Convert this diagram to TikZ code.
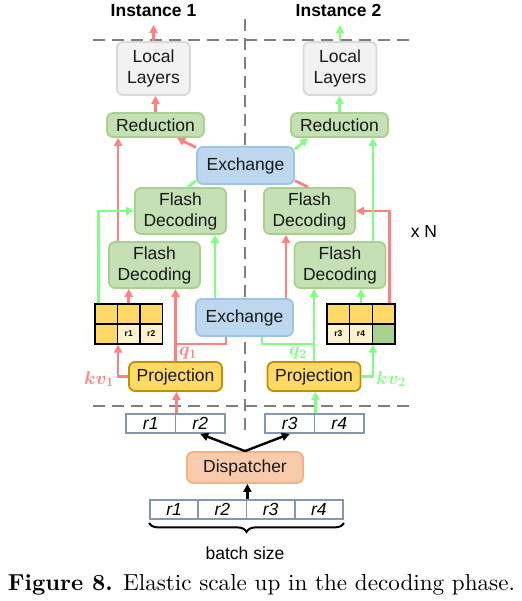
\RequirePackage{fix-cm}
\documentclass[tikz,border=0pt]{standalone}
\usepackage{amsmath,bm}
\usepackage{fontspec}
\setsansfont{Liberation Sans}
\usetikzlibrary{arrows.meta,calc,decorations.pathreplacing}
\definecolor{llF}{HTML}{F2F2F2}\definecolor{llD}{HTML}{D9D9D9}
\definecolor{gF}{HTML}{C5E0B4}\definecolor{gD}{HTML}{A9D18E}
\definecolor{xF}{HTML}{BDD7EE}\definecolor{xD}{HTML}{9DC3E6}
\definecolor{pF}{HTML}{FFD966}\definecolor{pD}{HTML}{BF9000}
\definecolor{dF}{HTML}{F8CBAD}\definecolor{dD}{HTML}{F4B183}
\definecolor{rD}{HTML}{8497B0}
\definecolor{tY}{HTML}{FFD966}\definecolor{tL}{HTML}{FFF2CC}\definecolor{tG}{HTML}{A9D18E}
\definecolor{redl}{HTML}{FF8080}\definecolor{grnl}{HTML}{80FF80}
\definecolor{dashc}{HTML}{7F7F7F}
\newcommand\bxf{\sffamily\fontsize{17.5}{21}\selectfont}
\begin{document}
\begin{tikzpicture}[x=1pt,y=-1pt,
  box/.style={rounded corners=6pt, line width=1.8pt, inner sep=0pt, align=center, font=\bxf, text=black!90},
  llbox/.style={box, draw=llD, fill=llF, minimum width=73pt, minimum height=53pt},
  gbox/.style={box, draw=gD, fill=gF},
  redbox/.style={gbox, minimum width=97pt, minimum height=24pt},
  fdbox/.style={gbox, minimum width=91pt, minimum height=46pt},
  xbox/.style={box, draw=xD, fill=xF, minimum width=97pt, minimum height=37pt},
  pbox/.style={box, draw=pD, fill=pF, minimum width=93pt, minimum height=29pt},
  dbox/.style={box, draw=dD, fill=dF, minimum width=116pt, minimum height=31pt},
  rcell/.style={draw=rD, line width=1.8pt, fill=white, minimum height=19pt, inner sep=0pt, font=\bxf\itshape},
  tcell/.style={draw=black, line width=1.2pt, minimum height=20pt, inner sep=0pt, font=\sffamily\bfseries\fontsize{8.5}{9}\selectfont},
  tip/.style={-{Triangle[length=8pt,width=8pt]}},
  rl/.style={draw=redl, line width=2.7pt},
  gl/.style={draw=grnl, line width=2.7pt},
  ra/.style={rl, tip},
  ga/.style={gl, tip},
  ka/.style={draw=black, line width=2.4pt, tip},
  dline/.style={draw=dashc, line width=2.8pt, dash pattern=on 12pt off 7pt},
  lbl/.style={font=\bxf},
  mlbl/.style={font=\fontsize{18.5}{20}\selectfont\boldmath, inner sep=0pt}
]
\path[use as bounding box] (0,0) rectangle (521,601);

% dashed separators
\draw[dline] (93,40) -- (416,40);
\draw[dline] (93,406) -- (416,406);
\draw[dline] (245,19) -- (245,434);

% titles
\node[lbl, font=\bxf\bfseries, anchor=base] (i1) at (153.5,17) {Instance 1};
\node[lbl, font=\bxf\bfseries, anchor=base] (i2) at (338.5,17) {Instance 2};
\node[lbl, anchor=base] (xn) at (424,237) {x N};

% boxes
\node[llbox] (llL) at (153.5,68.5) {Local\\Layers};
\node[llbox] (llR) at (340,68.5) {Local\\Layers};
\node[redbox] (redL) at (155.5,125) {Reduction};
\node[redbox] (redR) at (339.5,125) {Reduction};
\node[xbox] (exT) at (245.5,165.5) {Exchange};
\node[fdbox] (fdUL) at (180.5,211) {Flash\\Decoding};
\node[fdbox] (fdLL) at (154.5,265) {Flash\\Decoding};
\node[fdbox] (fdUR) at (309.5,211) {Flash\\Decoding};
\node[fdbox] (fdLR) at (340,265) {Flash\\Decoding};
\node[xbox] (exB) at (244.5,317.5) {Exchange};
\node[pbox] (prL) at (175.5,376.5) {Projection};
\node[pbox] (prR) at (314,376.5) {Projection};
\node[dbox] (dis) at (245,467.5) {Dispatcher};

% KV tables
\begin{scope}[every node/.style={tcell, minimum width=22.5pt}]
\node[fill=tY] (tL11) at (106.25,314) {};
\node[fill=tY] (tL12) at (128.75,314) {};
\node[fill=tY] (tL13) at (151.25,314) {};
\node[fill=tY] (tL21) at (106.25,334) {};
\node[fill=tL] (tL22) at (128.75,334) {r1};
\node[fill=tL] (tL23) at (151.25,334) {r2};
\end{scope}
\begin{scope}[every node/.style={tcell, minimum width=22.7pt}]
\node[fill=tY] (tR11) at (338.3,314) {};
\node[fill=tY] (tR12) at (361,314) {};
\node[fill=tY] (tR13) at (383.7,314) {};
\node[fill=tL] (tR21) at (338.3,334) {r3};
\node[fill=tL] (tR22) at (361,334) {r4};
\node[fill=tG] (tR23) at (383.7,334) {};
\end{scope}

% request cells
\begin{scope}[every node/.style={rcell, minimum width=49.5pt}]
\node (rL1) at (150.75,423.5) {r1};
\node (rL2) at (200.25,423.5) {r2};
\node (rR1) at (289.75,423.5) {r3};
\node (rR2) at (339.25,423.5) {r4};
\end{scope}
\begin{scope}[every node/.style={rcell, minimum width=48.25pt}]
\node (b1) at (174.1,509.5) {r1};
\node (b2) at (222.4,509.5) {r2};
\node (b3) at (270.6,509.5) {r3};
\node (b4) at (318.9,509.5) {r4};
\end{scope}

% helper coordinates
\coordinate (outT) at (0,25);
\coordinate (yS) at (0,344);
\coordinate (xB) at (98.5,0);
\coordinate (xC) at (226,0);
\coordinate (xD) at (215,0);
\coordinate (xE) at (286,0);
\coordinate (xF) at (262,0);
\coordinate (xH) at (389.5,0);
\coordinate (xI) at (177,0);
\coordinate (xJ) at (308,0);
\coordinate (xK) at (188,0);
\coordinate (xL) at (308,0);

% instance 1 (red)
\draw[ra] (llL.north) -- (llL.north |- outT);
\draw[ra] (redL.north) -- (redL.north |- llL.south);
\draw[ra] (fdLL.north -| tL21.south east) -- (redL.south -| tL21.south east);
\draw[ra] (exT.160) -- (redL.south -| xI);
\draw[rl] (fdUR.north -| xL) -- (exT.343);
\draw[ra] (tL12.north) -- (tL12.north |- fdLL.south);
\draw[ra] (prL.west) -| (tL21.south east);
\draw[ra] (prL.north) -- (prL.north |- fdLL.south);
\draw[rl] (prL.north |- yS) -| (exB.south -| xC);
\draw[ra] (exB.north -| xE) -- (fdUR.south -| xE);
\draw[ra] (tR13.north -| xH) |- (fdUR.east);
\draw[ra] (rL1.north east) -- (rL1.north east |- prL.south);

% instance 2 (green)
\draw[ga] (llR.north) -- (llR.north |- outT);
\draw[ga] (redR.north) -- (redR.north |- llR.south);
\draw[ga] (fdLR.north -| tR22.south east) -- (redR.south -| tR22.south east);
\draw[ga] (exT.18) -- (redR.south -| xJ);
\draw[gl] (fdUL.north -| xK) -- (exT.197);
\draw[ga] (tR12.north) -- (tR12.north |- fdLR.south);
\draw[ga] (prR.east) -| (tR22.south east);
\draw[ga] (prR.north) -- (prR.north |- fdLR.south);
\draw[gl] (prR.north |- yS) -| (exB.south -| xF);
\draw[ga] (exB.north -| xD) -- (fdUL.south -| xD);
\draw[ga] (tL11.north -| xB) |- (fdUL.west);
\draw[ga] (rR1.north east) -- (rR1.north east |- prR.south);

% labels
\node[mlbl, text=redl] (kv1) at (99,379) {$\bm{kv_1}$};
\node[mlbl, text=redl] (q1) at (188,353) {$\bm{q_1}$};
\node[mlbl, text=grnl] (kv2) at (391,379) {$\bm{kv_2}$};
\node[mlbl, text=grnl] (q2) at (298,353) {$\bm{q_2}$};

% dispatcher
\draw[ka] (dis.north) -- (rL2.south);
\draw[ka] (dis.north) -- (rR1.south);
\draw[ka] (b2.north east) -- (b2.north east |- dis.south);

% brace
\draw[line width=2pt, decorate, decoration={brace, mirror, amplitude=9pt}]
  ([yshift=-3pt]b1.south west) -- ([yshift=-3pt]b4.south east);
\node[lbl, anchor=base] (bs) at (245,559) {batch size};

% caption
\node[anchor=base, inner sep=0pt] (cap) at (261.5,590)
  {\resizebox{507pt}{!}{\textbf{Figure 8.} Elastic scale up in the decoding phase.}};
\end{tikzpicture}
\end{document}
